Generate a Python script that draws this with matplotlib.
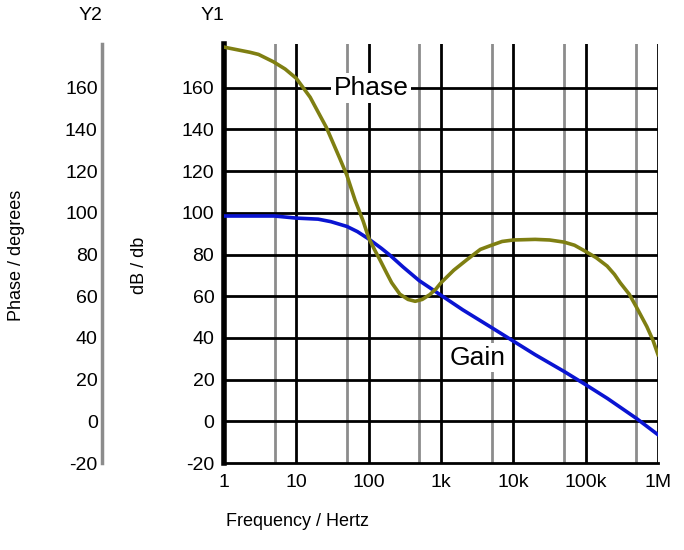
import matplotlib.pyplot as plt

plt.rcParams['font.family'] = ['Liberation Sans', 'DejaVu Sans']
plt.rcParams['axes.unicode_minus'] = False

# Gain curve (dB)
gain_freq = [1, 5, 10, 20, 30, 50, 70, 100, 150, 200, 300, 500, 1e3, 2e3, 5e3,
             1e4, 2e4, 5e4, 1e5, 2e5, 5e5, 1e6]
gain_db = [98.5, 98.5, 97.5, 97, 95.8, 93.5, 91, 87.5, 83, 79.5, 74, 67.5, 60.5, 53.5, 45,
           38.5, 32, 24, 17.6, 11, 1.5, -6.4]

# Phase curve (degrees)
phase_freq = [1, 2.3, 3, 4.8, 7, 10, 15.5, 26, 40, 50, 65, 84, 100, 122, 143, 178, 208, 270,
              350, 440, 550, 700, 850, 1000, 1500, 2270, 3500, 5000, 7000, 1e4, 2e4,
              31700, 5e4, 7e4, 1e5, 1.4e5, 198000, 2.5e5, 3e5, 4e5, 5e5, 7e5, 8.5e5, 1e6]
phase_deg = [179.5, 177, 176, 172.5, 169, 164.5, 155.5, 141, 126, 118, 106, 96, 88, 82,
             77.5, 71, 66.5, 61, 58.5, 57.6, 58.5, 60.8, 63.5, 66.5, 72.5, 77.5, 82.5, 84.5,
             86.3, 87, 87.3, 87, 86, 84.5, 81.5, 78.5, 74.5, 70.5, 66.5, 61, 55, 45.5, 39, 32]

decades = [1, 10, 100, 1e3, 1e4, 1e5, 1e6]
decade_labels = ["1", "10", "100", "1k", "10k", "100k", "1M"]
halves = [5, 50, 500, 5e3, 5e4, 5e5]
y_ticks = [-20, 0, 20, 40, 60, 80, 100, 120, 140, 160]

fig = plt.figure(figsize=(6.84, 5.5), dpi=100)
ax = fig.add_axes([0.3275, 0.158, 0.6345, 0.762])

ax.set_xscale("log")
ax.set_xlim(1, 1e6)
ax.set_ylim(-20, 181)

# grid
for f in halves:
    ax.axvline(f, color="#8c8c8c", lw=2, zorder=1)
for f in decades[1:]:
    ax.axvline(f, color="black", lw=2, zorder=1)
for v in y_ticks[1:]:
    ax.axhline(v, color="black", lw=2, zorder=1)

ax.plot(gain_freq, gain_db, color="#0a14d2", lw=2.6, zorder=3)
ax.plot(phase_freq, phase_deg, color="#7f7f12", lw=2.6, zorder=3)

ax.text(108, 160, "Phase", fontsize=19, ha="center", va="center", zorder=4,
        bbox=dict(facecolor="white", edgecolor="none", pad=2))
ax.text(3240, 30.6, "Gain", fontsize=19, ha="center", va="center", zorder=4,
        bbox=dict(facecolor="white", edgecolor="none", pad=2))

ax.set_xticks(decades)
ax.set_xticklabels(decade_labels)
ax.minorticks_off()
ax.set_yticks(y_ticks)
ax.tick_params(axis="both", length=0, labelsize=14)
ax.tick_params(axis="y", pad=7)
ax.tick_params(axis="x", pad=8)

ax.spines["top"].set_visible(False)
ax.spines["right"].set_visible(False)
ax.spines["left"].set_linewidth(4)
ax.spines["bottom"].set_linewidth(2)

# second y axis on the far left
ax2 = fig.add_axes([0.149, 0.158, 0.001, 0.762])
ax2.set_ylim(-20, 181)
ax2.set_yticks(y_ticks)
ax2.set_xticks([])
ax2.patch.set_visible(False)
for s in ["top", "right", "bottom"]:
    ax2.spines[s].set_visible(False)
ax2.spines["left"].set_color("#8c8c8c")
ax2.spines["left"].set_linewidth(2.5)
ax2.tick_params(axis="y", length=0, labelsize=14, pad=3)

fig.text(90 / 684, 1 - 15 / 550, "Y2", fontsize=14, ha="center", va="center")
fig.text(212 / 684, 1 - 15 / 550, "Y1", fontsize=14, ha="center", va="center")
fig.text(17 / 684, 1 - 255 / 550, "Phase / degrees", fontsize=13, rotation=90,
         ha="center", va="center")
fig.text(140 / 684, 1 - 265 / 550, "dB / db", fontsize=13, rotation=90,
         ha="center", va="center")
fig.text(297 / 684, 1 - 522 / 550, "Frequency / Hertz", fontsize=13,
         ha="center", va="center")

fig.savefig("out.png", dpi=100)
